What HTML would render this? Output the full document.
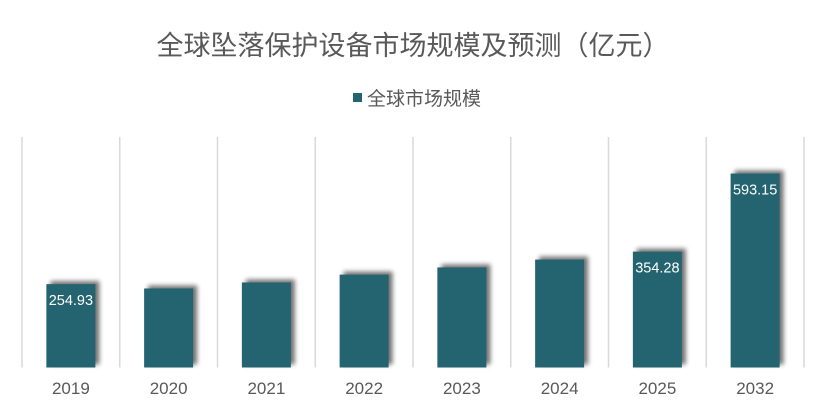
<!DOCTYPE html>
<html><head><meta charset="utf-8"><style>
body{margin:0;background:#fff;}
svg{display:block;font-family:"Liberation Sans","Noto Sans CJK SC",sans-serif;}
</style></head><body>
<svg id="chart" width="827" height="413">
<defs><filter id="sh" x="-30%" y="-30%" width="160%" height="160%"><feGaussianBlur stdDeviation="2.5"/></filter></defs>
<text x="413" y="55" text-anchor="middle" font-size="27" fill="#595959">全球坠落保护设备市场规模及预测（亿元）</text>
<g>
<rect x="353" y="93" width="9" height="9" fill="#246370"></rect>
<text x="367" y="105" font-size="19" fill="#595959">全球市场规模</text>
</g>
<g id="grid"></g><g id="bars"></g><g id="xlabels"></g>
</svg>
<script>
const categories=["2019","2020","2021","2022","2023","2024","2025","2032"];
const values=[254.93,241.6,260,284,306,330,354.28,593.15];
const labelsShown=["254.93","","","","","","354.28","593.15"];
const NS="http://www.w3.org/2000/svg";
const x0=22,x1=804,baseY=367.5,pxPer=0.327;
const bw=(x1-x0)/categories.length;
const xPos=i=>x0+bw*i;
const yPos=v=>baseY-v*pxPer;
const grid=document.getElementById('grid'),bars=document.getElementById('bars'),xl=document.getElementById('xlabels');
for(let i=0;i<=categories.length;i++){
 const l=document.createElementNS(NS,'line');
 l.setAttribute('x1',xPos(i));l.setAttribute('x2',xPos(i));l.setAttribute('y1',137);l.setAttribute('y2',baseY);
 l.setAttribute('stroke','#d9d9d9');l.setAttribute('stroke-width','1.5');
 
 
 grid.appendChild(l);
}
categories.forEach((c,i)=>{
 const cx=xPos(i)+bw/2,w=49,top=yPos(values[i]),h=baseY-top;
 const s=document.createElementNS(NS,'rect');
 s.setAttribute('x',cx-w/2+4);s.setAttribute('y',top-3);s.setAttribute('width',w);s.setAttribute('height',h);
 s.setAttribute('fill','#000');s.setAttribute('opacity','0.55');s.setAttribute('filter','url(#sh)');
 
 
 bars.appendChild(s);
 const r=document.createElementNS(NS,'rect');
 r.setAttribute('x',cx-w/2);r.setAttribute('y',top);r.setAttribute('width',w);r.setAttribute('height',h);
 r.setAttribute('fill','#246370');
 
 
 bars.appendChild(r);
 if(labelsShown[i]){
  const t=document.createElementNS(NS,'text');
  t.setAttribute('x',cx);t.setAttribute('y',top+21);t.setAttribute('text-anchor','middle');
  t.setAttribute('font-size','14.5');t.setAttribute('fill','#fff');t.textContent=labelsShown[i];
  
  
  bars.appendChild(t);
 }
 const xt=document.createElementNS(NS,'text');
 xt.setAttribute('x',cx);xt.setAttribute('y',394);xt.setAttribute('text-anchor','middle');
 xt.setAttribute('font-size','17');xt.setAttribute('fill','#595959');xt.textContent=c;
 
 
 xl.appendChild(xt);
});
</script>
</body></html>
